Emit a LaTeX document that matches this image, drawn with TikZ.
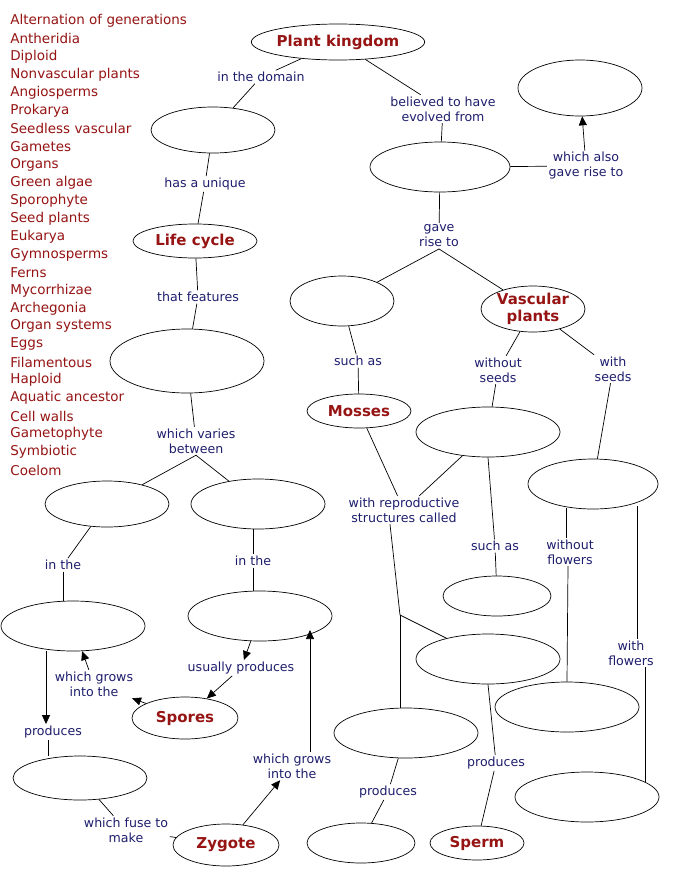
\documentclass[tikz,border=0pt]{standalone}
\usepackage{fontspec}
\setmainfont{DejaVu Sans}
\usetikzlibrary{shapes.geometric,arrows.meta}
\definecolor{lab}{RGB}{30,30,110}
\definecolor{dred}{RGB}{150,20,20}
\begin{document}
\begin{tikzpicture}[x=1pt,y=-1pt,line width=0.7pt,
  e/.style 2 args={draw,ellipse,minimum width=#1,minimum height=#2,inner sep=0pt},
  key/.style={text=dred,font=\bfseries\fontsize{15}{16.5}\selectfont,align=center},
  lb/.style={text=lab,font=\fontsize{12.6}{15}\selectfont,align=center,inner sep=1.5pt,fill=white},
  wl/.style={text=dred,font=\fontsize{13.5}{15}\selectfont,anchor=west,inner sep=0pt},
  ln/.style={draw},
  ar/.style={draw,-{Triangle[length=9pt,width=8pt]}}]
\useasboundingbox[fill=white] (0,0) rectangle (673,881);
\foreach \w [count=\i from 0] in {Alternation of generations,Antheridia,Diploid,Nonvascular plants,Angiosperms,Prokarya,Seedless vascular,Gametes,Organs,Green algae,Sporophyte,Seed plants,Eukarya,Gymnosperms,Ferns,Mycorrhizae,Archegonia,Organ systems,Eggs,Filamentous,Haploid,Aquatic ancestor,Cell walls,Gametophyte,Symbiotic,Coelom}
  \node[wl] (w\i) at (10,{21+17.96*\i}) {\w};
\node[e={152}{36},key] (pk) at (338,42) {Plant kingdom};
\node[e={124}{56}] (e1) at (580,88) {};
\node[e={124}{46}] (e2) at (213,130) {};
\node[e={140}{50}] (e3) at (440,167) {};
\node[e={124}{34},key] (lc) at (195,241) {Life cycle};
\node[e={104}{50}] (e4) at (342,301) {};
\node[e={104}{46},key] (vp) at (533,309) {Vascular\\plants};
\node[e={154}{64}] (e5) at (187,361) {};
\node[e={104}{34},key] (mo) at (359,411) {Mosses};
\node[e={144}{50}] (e6) at (488,432) {};
\node[e={130}{50}] (e7) at (593,484) {};
\node[e={124}{46}] (e8) at (107,504) {};
\node[e={134}{50}] (e9) at (258,504) {};
\node[e={108}{40}] (e10) at (497,596) {};
\node[e={144}{50}] (e11) at (73,626) {};
\node[e={144}{50}] (e12) at (260,616) {};
\node[e={144}{50}] (e13) at (488,659) {};
\node[e={144}{50}] (e14) at (567,707) {};
\node[e={106}{42},key] (sp) at (185,718) {Spores};
\node[e={144}{50}] (e15) at (406,733) {};
\node[e={134}{44}] (e16) at (80,778) {};
\node[e={144}{50}] (e17) at (587,797) {};
\node[e={108}{40}] (e18) at (361,843) {};
\node[e={106}{42},key] (zy) at (226,845) {Zygote};
\node[e={94}{34},key] (spm) at (477,843) {Sperm};
\node[lb] (l1) at (261,77) {in the domain};
\node[lb] (l2) at (443,109) {believed to have\\evolved from};
\node[lb] (l3) at (586,166) {which also\\gave rise to};
\node[lb] (l4) at (205,184) {has a unique};
\node[lb] (l5) at (439,236) {gave\\rise to};
\node[lb] (l6) at (198,297) {that features};
\node[lb] (l7) at (358,361) {such as};
\node[lb] (l8) at (498,370) {without\\seeds};
\node[lb] (l9) at (613,369) {with\\seeds};
\node[lb] (l10) at (196,441) {which varies\\between};
\node[lb] (l11) at (404,510) {with reproductive\\structures called};
\node[lb] (l12) at (63,565) {in the};
\node[lb] (l13) at (253,561) {in the};
\node[lb] (l14) at (495,546) {such as};
\node[lb] (l15) at (570,552) {without\\flowers};
\node[lb] (l16) at (631,653) {with\\flowers};
\node[lb] (l17) at (241,668) {usually produces};
\node[lb] (l18) at (94,684) {which grows\\into the};
\node[lb] (l19) at (53,732) {produces};
\node[lb] (l20) at (292,766) {which grows\\into the};
\node[lb] (l21) at (496,763) {produces};
\node[lb] (l22) at (388,792) {produces};
\node[lb] (l23) at (126,830) {which fuse to\\make};
\coordinate (br) at (400,615);
\coordinate (f17) at (645,782);
\coordinate (ztip) at (310,630);
\draw[ln] (pk) -- (l1); \draw[ln] (l1) -- (e2);
\draw[ln] (pk) -- (l2); \draw[ln] (l2) -- (e3);
\draw[ln] (e3) -- (l3); \draw[ar] (l3) -- (e1);
\draw[ln] (e2) -- (l4); \draw[ln] (l4) -- (lc);
\draw[ln] (lc) -- (l6); \draw[ln] (l6) -- (e5);
\draw[ln] (e3) -- (l5); \draw[ln] (l5.south) -- (e4); \draw[ln] (l5.south) -- (vp);
\draw[ln] (e4) -- (l7); \draw[ln] (l7) -- (mo);
\draw[ln] (vp) -- (l8); \draw[ln] (l8) -- (e6);
\draw[ln] (vp) -- (l9); \draw[ln] (l9) -- (e7);
\draw[ln] (e5) -- (l10); \draw[ln] (l10.south) -- (e8); \draw[ln] (l10.south) -- (e9);
\draw[ln] (mo) -- (l11); \draw[ln] (e6) -- (l11);
\draw[ln] (l11.south -| 390,0) -- (br) -- (e13); \draw[ln] (br) -- (e15.north -| br);
\draw[ln] (e6.south) -- (l14); \draw[ln] (l14) -- (e10);
\draw[ln] (566,508) -- (l15.north -| 566,0); \draw[ln] (l15.south -| 568,0) -- (e14.north);
\draw[ln] (637,506) -- (l16.north -| 637,0); \draw[ln] (l16.south -| 645,0) -- (f17);
\draw[ln] (e8) -- (l12); \draw[ln] (l12) -- (e11.north -| l12);
\draw[ln] (e9.south -| l13) -- (l13); \draw[ln] (l13) -- (e12.north -| l13);
\draw[ar] (e12) -- (l17); \draw[ar] (l17) -- (sp);
\draw[ar] (sp) -- (l18); \draw[ar] (l18) -- (e11);
\draw[ar] (e11.south -| 46,0) -- (l19.north -| 46,0); \draw[ln] (l19.south -| 48,0) -- (e16.north -| 48,0);
\draw[ln] (e16) -- (l23); \draw[ln] (l23) -- (zy);
\draw[ar] (zy) -- (l20); \draw[ar] (l20.north -| ztip) -- (ztip);
\draw[ln] (e13.south) -- (l21); \draw[ln] (l21) -- (spm);
\draw[ln] (e15) -- (l22); \draw[ln] (l22) -- (e18);
\end{tikzpicture}
\end{document}
